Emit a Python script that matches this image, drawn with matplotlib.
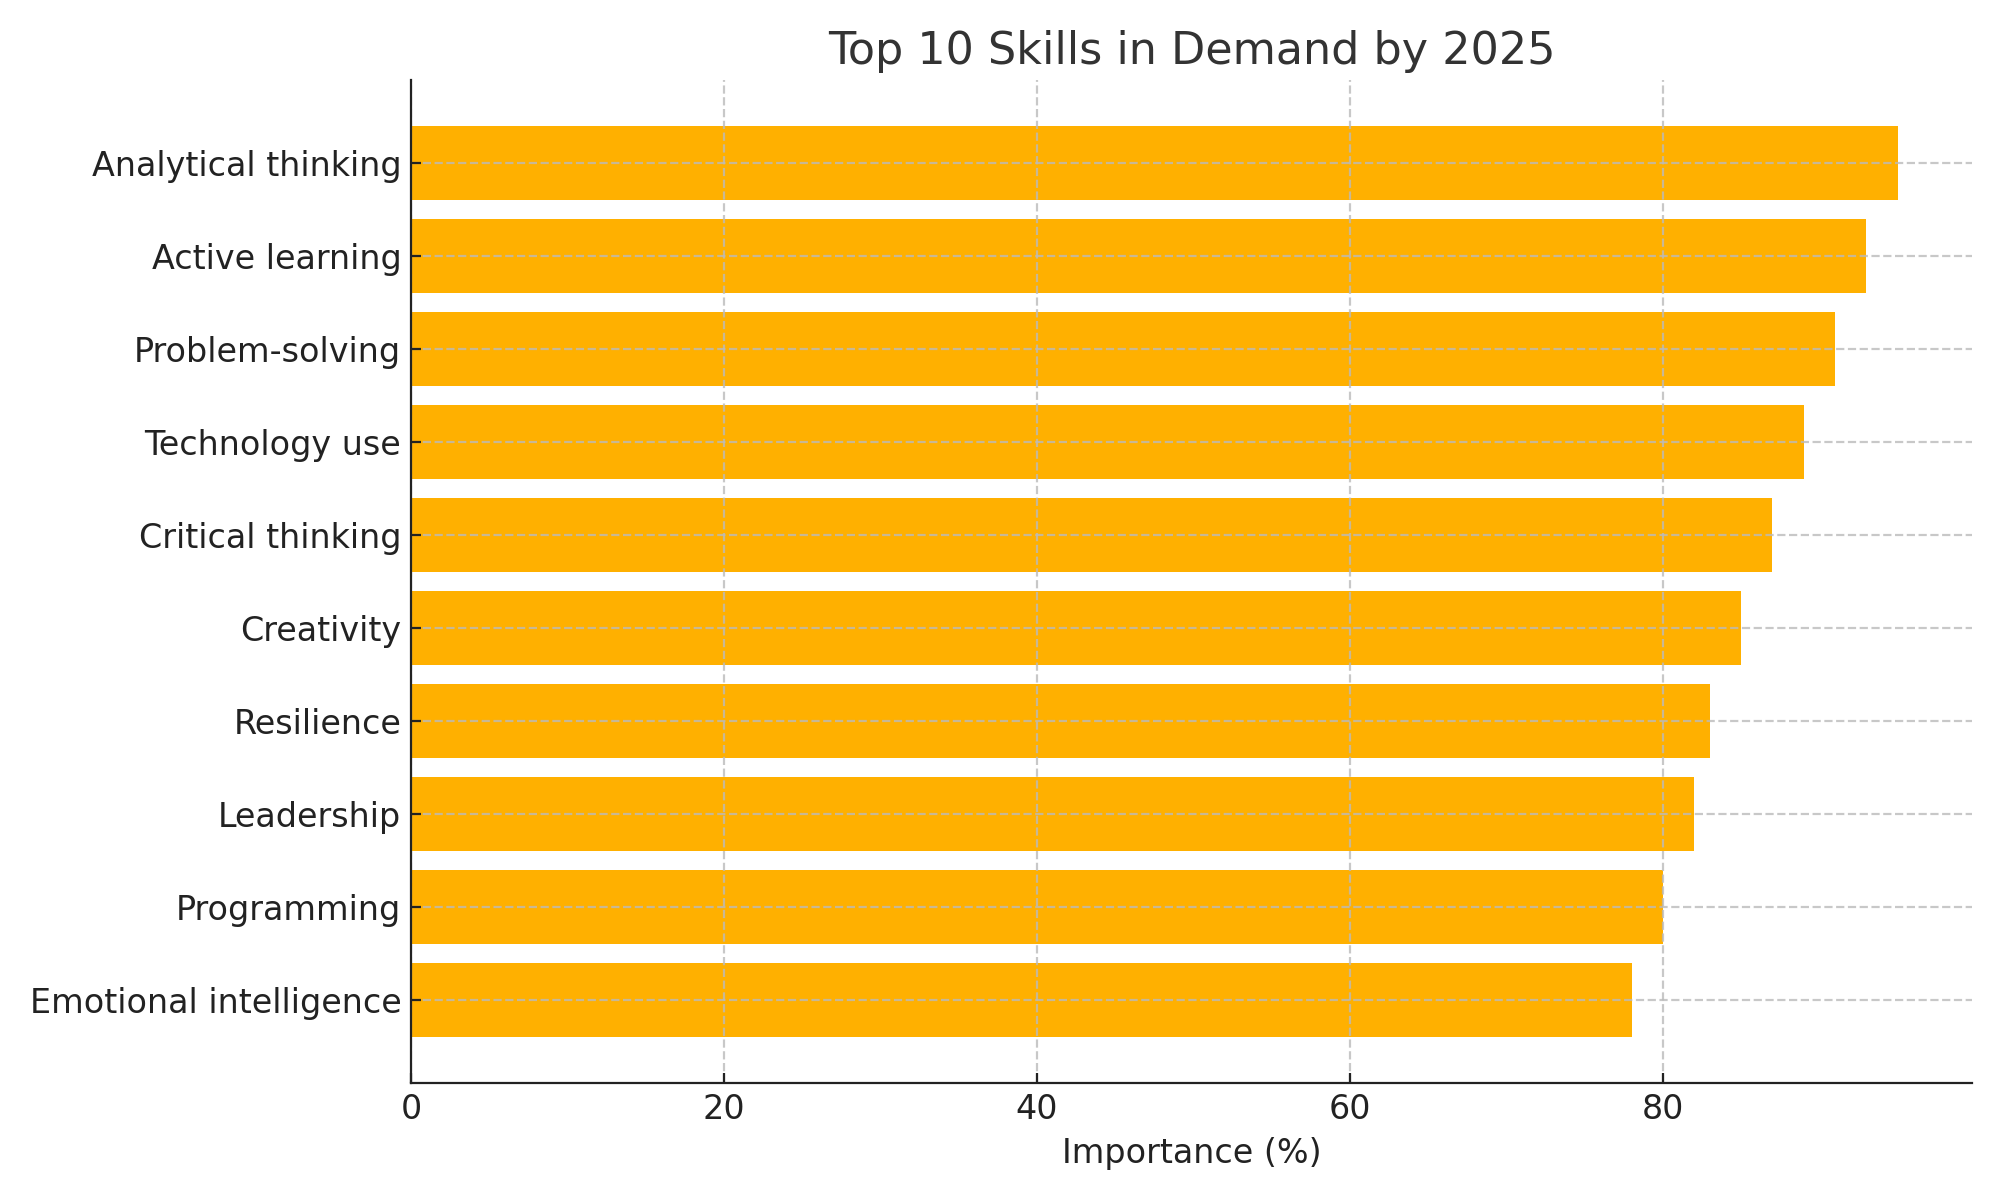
import matplotlib
matplotlib.use("Agg")
import matplotlib.pyplot as plt

skills = ["Analytical thinking", "Active learning", "Problem-solving", "Technology use",
          "Critical thinking", "Creativity", "Resilience", "Leadership", "Programming",
          "Emotional intelligence"]
importance = [95, 93, 91, 89, 87, 85, 83, 82, 80, 78]

fig, ax = plt.subplots(figsize=(10, 6), dpi=200)
ax.barh(skills[::-1], importance[::-1], color="#FFB000")
ax.set_title("Top 10 Skills in Demand by 2025", fontsize=16, color="#333333")
ax.set_xlabel("Importance (%)", fontsize=12, color="#222222")
ax.tick_params(labelsize=12, colors="#222222", direction="in")
ax.grid(True, linestyle="--", color="#bbbbbb", alpha=0.8)
for s in ["top", "right"]:
    ax.spines[s].set_visible(False)
for s in ["left", "bottom"]:
    ax.spines[s].set_color("#222222")
fig.subplots_adjust(left=0.2055, right=0.986, bottom=0.0975, top=0.933)
fig.savefig("out.png")
